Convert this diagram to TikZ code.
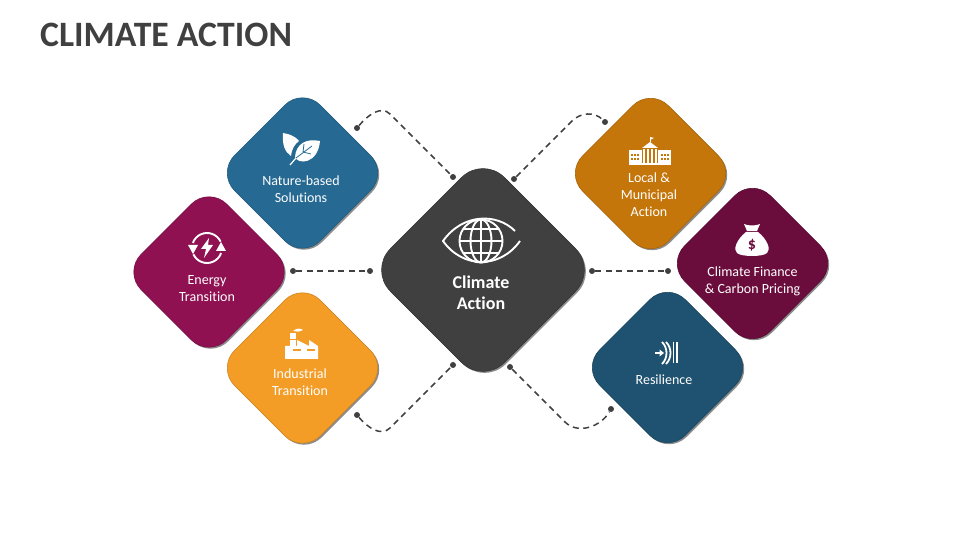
\documentclass[tikz,border=0pt]{standalone}
\usepackage{fontspec}
\setmainfont[Ligatures=NoCommon]{Carlito}
\usetikzlibrary{positioning, shadows}

\definecolor{titlegray}{HTML}{404040}
\definecolor{natureblue}{HTML}{266A93}
\definecolor{energyred}{HTML}{8F1152}
\definecolor{industryorange}{HTML}{F39C26}
\definecolor{localorange}{HTML}{C5760A}
\definecolor{financered}{HTML}{6B0D3C}
\definecolor{resilienceblue}{HTML}{1F5270}

\tikzset{
    tile/.style={draw=#1!85!black, fill=#1, line width=0.6pt, rectangle, rotate=45,
        minimum size=121pt, rounded corners=25pt, inner sep=0pt,
        drop shadow={shadow xshift=1.5pt, shadow yshift=-1.5pt, opacity=0.45, fill=black}},
    bigtile/.style={tile=#1, minimum size=161pt, rounded corners=30pt},
    tiletext/.style={text=white, align=center, inner sep=0pt, font=\fontsize{14}{17}\selectfont},
    dot/.style={circle, fill=titlegray, minimum size=6pt, inner sep=0pt},
    link/.style={draw=titlegray, line width=1.5pt, dash pattern=on 6pt off 4.5pt},
    iconline/.style={draw=white, line width=1.9pt},
}

\begin{document}
\begin{tikzpicture}[x=1pt, y=1pt]
    \useasboundingbox (0,0) rectangle (960,540);
    \node (Title) [anchor=west, text=titlegray, inner sep=0pt, font=\fontsize{35.7}{40}\selectfont\bfseries] at (40,505.5) {CLIMATE ACTION};

    % tiles
    \node (Nature) [tile=natureblue] at (302.5,367) {};
    \node (Energy) [tile=energyred] at (209,268) {};
    \node (Industry) [tile=industryorange] at (302.5,172) {};
    \node (Local) [tile=localorange] at (650.5,366.5) {};
    \node (Finance) [tile=financered] at (752.5,276.5) {};
    \node (Resilience) [tile=resilienceblue] at (667.5,172.5) {};
    \node (Centre) [bigtile=titlegray] at (483,270) {};

    % labels
    \node (NatureText) [tiletext] at (301,351) {Nature-based\\Solutions};
    \node (EnergyText) [tiletext] at (207,251) {Energy\\Transition};
    \node (IndustryText) [tiletext] at (300,158) {Industrial\\Transition};
    \node (LocalText) [tiletext] at (649,345.5) {Local \&\\Municipal\\Action};
    \node (FinanceText) [tiletext] at (752.5,258.5) {Climate Finance\\\& Carbon Pricing};
    \node (ResilienceText) [tiletext] at (664,160.5) {Resilience};
    \node (CentreText) [tiletext, font=\fontsize{18}{21}\selectfont\bfseries] at (481,247) {Climate\\Action};

    % connectors
    \node (D1) [dot] at (357,412) {};
    \node (D2) [dot] at (453,363) {};
    \node (D3) [dot] at (514,361) {};
    \node (D4) [dot] at (605,418) {};
    \node (D5) [dot] at (293,269) {};
    \node (D6) [dot] at (370,269) {};
    \node (D7) [dot] at (592,269) {};
    \node (D8) [dot] at (668,269) {};
    \node (D9) [dot] at (357,125) {};
    \node (D10) [dot] at (453,175) {};
    \node (D11) [dot] at (510,173) {};
    \node (D12) [dot] at (611,131) {};
    \coordinate (B1) at (390,426);
    \coordinate (B2) at (572,419);
    \coordinate (B3) at (390,112);
    \coordinate (B4) at (565,118);
    \draw[link] (D1) to[out=50, in=135] (B1) -- (D2);
    \draw[link] (D3) -- (B2) to[out=45, in=135] (D4);
    \draw[link] (D5) -- (D6);
    \draw[link] (D7) -- (D8);
    \draw[link] (D9) to[out=-50, in=225] (B3) -- (D10);
    \draw[link] (D11) -- (B4) to[out=-45, in=-120] (D12);

    % leaf icon
    \fill[white] (320,399) .. controls (306,402) and (296,396) .. (295,383) .. controls (298,375) and (318,376) .. (320,399);
    \fill[white] (283,407) .. controls (282,395) and (285,388) .. (291,384) .. controls (292,392) and (295,396) .. (299,399) .. controls (294,405) and (288,406) .. (283,407);
    \draw[white, line width=1.2pt] (290,375) -- (296,382);
    \draw[natureblue, line width=0.8pt] (296,382) -- (312,394) (303,388) -- (304,396) (303,388) -- (311,386);

    % energy icon
    \draw[iconline] (207,292) ++(25:15) arc (25:160:15);
    \draw[iconline] (207,292) ++(205:15) arc (205:340:15);
    \fill[white] (188,295) -- (198,295) -- (193,286) -- cycle;
    \fill[white] (216,289) -- (226,289) -- (221,298) -- cycle;
    \fill[white] (209,302) -- (201,291) -- (206,291) -- (204,282) -- (213,295) -- (208,295) -- cycle;

    % factory icon
    \fill[white] (285,181) -- (318,181) -- (318,194) -- (309,200) -- (309,194) -- (297,200) -- (297,194) -- (285,194) -- cycle;
    \fill[white] (290,194) rectangle (296,207);
    \draw[industryorange, line width=0.8pt] (290,201) -- (296,201);
    \draw[industryorange, line width=1.2pt] (293,190) -- (301,190) (307,190) -- (315,190);
    \fill[white] (293,209) .. controls (297,212) and (300,212) .. (303,210) .. controls (299,208) and (296,208) .. (293,209);

    % building icon
    \fill[white] (629,375) rectangle (671,377);
    \fill[white] (629,377) rectangle (642,390);
    \fill[white] (658,377) rectangle (671,390);
    \fill[white] (642,392) -- (650,398) -- (658,392) -- cycle;
    \foreach \colx in {644,648,652,656} \fill[white] (\colx-1,377) rectangle (\colx+1,391);
    \draw[white, line width=0.8pt] (650,398) -- (650,403);
    \fill[white] (650,403) -- (654,402) -- (650,400) -- cycle;
    \foreach \winx in {632,635,638,662,665,668} \foreach \winy in {380,384}
        \fill[localorange] (\winx-1,\winy) rectangle (\winx+1,\winy+2);

    % money bag icon
    \fill[white] (746,308) .. controls (736,300) and (733,290) .. (737,287) .. controls (741,283) and (763,283) .. (767,287) .. controls (771,290) and (768,300) .. (758,308) -- cycle;
    \fill[white] (744,316) .. controls (748,314) and (756,314) .. (760,316) -- (757,309) -- (747,309) -- cycle;
    \node (BagSign) [text=financered, inner sep=0pt, font=\fontsize{16}{16}\selectfont\bfseries] at (752,295) {\$};

    % resilience icon
    \draw[white, line width=1.4pt] (655,187) -- (661,187);
    \fill[white] (664,187) -- (659.5,190.5) -- (659.5,183.5) -- cycle;
    \foreach \shift in {0,4} \draw[white, line width=1.8pt] (662+\shift,198) .. controls (668+\shift,192) and (668+\shift,182) .. (662+\shift,176);
    \draw[white, line width=1.9pt] (673.5,177) -- (673.5,198) (677,177) -- (677,198);

    % eye icon
    \draw[iconline] (515,309) .. controls (497,327) and (463,327) .. (443,299) .. controls (463,271) and (500,271) .. (520,299);
    \draw[iconline] (481,299) circle (21.5);
    \draw[iconline] (481,299) ellipse (10.5 and 21.5);
    \draw[iconline] (481,320.5) -- (481,277.5) (459.5,299) -- (502.5,299);
    \draw[iconline] (463,311) -- (499,311) (463,287) -- (499,287);
\end{tikzpicture}
\end{document}
